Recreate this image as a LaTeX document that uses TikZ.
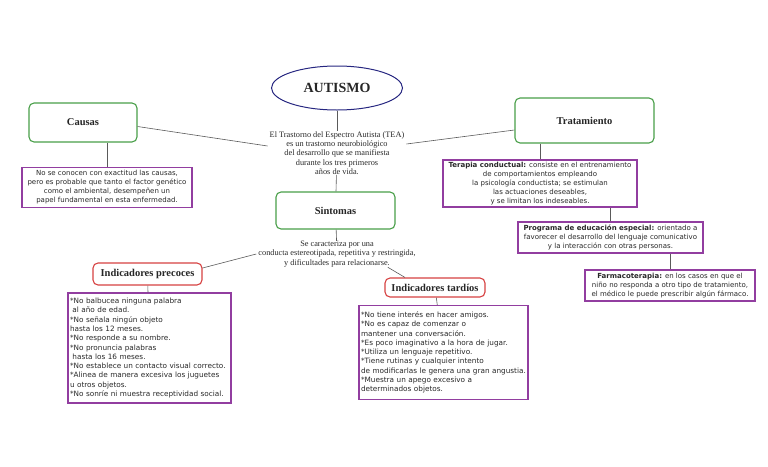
\documentclass[tikz,border=0pt]{standalone}
\usepackage{fontspec}
\setmainfont{Liberation Serif}
\setsansfont{DejaVu Sans}
\usetikzlibrary{calc,shapes}
\definecolor{MapGreen}{RGB}{72,158,72}
\definecolor{MapPurple}{RGB}{146,62,160}
\definecolor{MapRed}{RGB}{214,64,64}
\definecolor{MapNavy}{RGB}{38,38,128}
\definecolor{MapText}{RGB}{40,40,40}
\definecolor{MapLine}{RGB}{90,90,90}

\begin{document}
\begin{tikzpicture}[x=1pt, y=-1pt, node distance=65pt]
				\tikzstyle{start} = [ellipse, minimum width=131pt, minimum height=44pt, draw=MapNavy, line width=1pt, font=\fontsize{14}{16}\selectfont\bfseries, text=black!85]
				\tikzstyle{topic} = [rectangle, rounded corners=5pt, text centered, draw=MapGreen, line width=1.1pt, font=\fontsize{10.5}{12}\selectfont\bfseries, text=black!85]
				\tikzstyle{sign} = [rectangle, rounded corners=5pt, text centered, draw=MapRed, line width=1.1pt, font=\fontsize{10.5}{12}\selectfont\bfseries, text=black!85]
				\tikzstyle{info} = [rectangle, draw=MapPurple, line width=1.1pt, inner sep=2pt, font=\sffamily\fontsize{7}{9}\selectfont, text=MapText]
				\tikzstyle{list} = [info, align=left, font=\sffamily\fontsize{7.3}{9.3}\selectfont]
				\tikzstyle{note} = [inner sep=0pt, align=center, font=\fontsize{8.3}{9.4}\selectfont, text=MapText]
				\tikzstyle{line} = [draw=MapLine, line width=0.6pt]
				
				\useasboundingbox (0,0) rectangle (768,466);
				\node (autismo) [start] at (337,88) {AUTISMO};
				\node (tea) [note, below of=autismo] {El Trastorno del Espectro Autista (TEA)\\ es un trastorno neurobiológico\\ del desarrollo que se manifiesta\\ durante los tres primeros\\ años de vida.};
				\node (causas) [topic, left of=autismo, xshift=-189pt, yshift=-34.5pt, minimum width=108pt, minimum height=39pt] {Causas};
				\node (causastxt) [info, below of=causas, xshift=24pt, minimum width=170pt, minimum height=40pt, align=center] {No se conocen con exactitud las causas,\\ pero es probable que tanto el factor genético\\ como el ambiental, desempeñen un\\ papel fundamental en esta enfermedad.};
				\node (tratamiento) [topic, right of=autismo, xshift=182.5pt, yshift=-32.5pt, minimum width=139pt, minimum height=45pt] {Tratamiento};
				\node (terapia) [info, below of=tratamiento, xshift=-44.5pt, yshift=2pt, minimum width=194pt, minimum height=47pt, align=center] {\textbf{Terapia conductual:} consiste en el entrenamiento\\ de comportamientos empleando\\ la psicología conductista; se estimulan\\ las actuaciones deseables,\\ y se limitan los indeseables.};
				\node (programa) [info, below of=terapia, xshift=70.5pt, yshift=11pt, minimum width=185pt, minimum height=31pt, align=center] {\textbf{Programa de educación especial:} orientado a\\ favorecer el desarrollo del lenguaje comunicativo\\ y la interacción con otras personas.};
				\node (farmaco) [info, below of=programa, xshift=59.5pt, yshift=17pt, minimum width=170pt, minimum height=31pt, align=center] {\textbf{Farmacoterapia:} en los casos en que el\\ niño no responda a otro tipo de tratamiento,\\ el médico le puede prescribir algún fármaco.};
				\node (sintomas) [topic, below of=tea, yshift=7.5pt, xshift=-1.5pt, minimum width=119pt, minimum height=37pt] {Sintomas};
				\node (sintxt) [note, below of=sintomas, xshift=1.5pt, yshift=21.5pt] {Se caracteriza por una\\ conducta estereotipada, repetitiva y restringida,\\ y dificultades para relacionarse.};
				\node (precoces) [sign, left of=sintxt, xshift=-124.5pt, yshift=-20pt, minimum width=109pt, minimum height=22pt] {Indicadores precoces};
				\node (precocestxt) [list, below of=precoces, xshift=2pt, yshift=-9pt, minimum width=163pt, minimum height=110pt, text width=159pt] {{*}No balbucea ninguna palabra\\ \ al año de edad.\\ {*}No señala ningún objeto\\ hasta los 12 meses.\\ {*}No responde a su nombre.\\ {*}No pronuncia palabras\\ \ hasta los 16 meses.\\ {*}No establece un contacto visual correcto.\\ {*}Alinea de manera excesiva los juguetes\\ u otros objetos.\\ {*}No sonríe ni muestra receptividad social.};
				\node (tardios) [sign, right of=sintxt, xshift=33pt, yshift=-33.5pt, minimum width=100pt, minimum height=19pt] {Indicadores tardíos};
				\node (tardiostxt) [list, below of=tardios, xshift=8.5pt, minimum width=169pt, minimum height=94pt, text width=165pt] {{*}No tiene interés en hacer amigos.\\ {*}No es capaz de comenzar o\\ mantener una conversación.\\ {*}Es poco imaginativo a la hora de jugar.\\ {*}Utiliza un lenguaje repetitivo.\\ {*}Tiene rutinas y cualquier intento\\ de modificarlas le genera una gran angustia.\\ {*}Muestra un apego excesivo a\\ determinados objetos.};
				\draw [line] (autismo) -- (tea);
				\draw [line] (tea) -- (sintomas);
				\draw [line] ([yshift=-4pt]causas.east) -- ([xshift=-2pt,yshift=7pt]tea.west);
				\draw [line] ([yshift=-9.5pt]tratamiento.west) -- ([xshift=2pt,yshift=9pt]tea.east);
				\draw [line] (causastxt.north) -- (causastxt.north |- causas.south);
				\draw [line] (terapia.north) -- (terapia.north |- tratamiento.south);
				\draw [line] (programa.north) -- (programa.north |- terapia.south);
				\draw [line] (farmaco.north) -- (farmaco.north |- programa.south);
				\draw [line] (sintomas) -- (sintxt);
				\draw [line] ([yshift=6pt]precoces.east) -- ([xshift=-2pt]sintxt.west);
				\draw [line] ([xshift=-30pt]tardios.north) -- ([xshift=-28pt]sintxt.south east);
				\draw [line] (precoces) -- (precocestxt);
				\draw [line] (tardios) -- (tardiostxt);
			\end{tikzpicture}
\end{document}
